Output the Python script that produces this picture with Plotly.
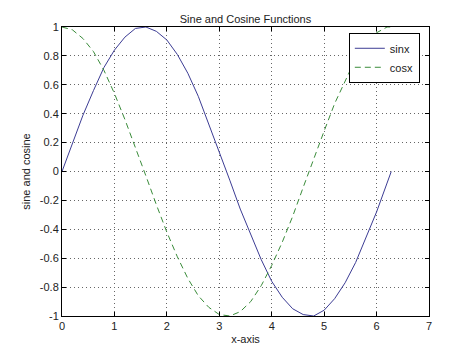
import plotly.graph_objects as go

x_vals = [0, 0.2, 0.4, 0.6, 0.8, 1.0, 1.2, 1.4, 1.6, 1.8, 2.0, 2.2, 2.4, 2.6, 2.8, 3.0,
          3.2, 3.4, 3.6, 3.8, 4.0, 4.2, 4.4, 4.6, 4.8, 5.0, 5.2, 5.4, 5.6, 5.8, 6.0, 6.2, 6.28]
sin_vals = [0.00, 0.20, 0.39, 0.56, 0.72, 0.84, 0.93, 0.99, 1.00, 0.97, 0.91, 0.81, 0.68, 0.52,
            0.33, 0.14, -0.06, -0.26, -0.44, -0.61, -0.76, -0.87, -0.95, -0.99, -1.00, -0.96,
            -0.88, -0.77, -0.63, -0.46, -0.28, -0.08, 0.00]
cos_vals = [1.00, 0.98, 0.92, 0.83, 0.70, 0.54, 0.36, 0.17, -0.03, -0.23, -0.42, -0.59, -0.74,
            -0.86, -0.94, -0.99, -1.00, -0.97, -0.90, -0.79, -0.65, -0.49, -0.31, -0.11, 0.09,
            0.28, 0.47, 0.63, 0.78, 0.89, 0.96, 1.00, 1.00]
x_ticks = [0, 1, 2, 3, 4, 5, 6, 7]
y_ticks = [-1, -0.8, -0.6, -0.4, -0.2, 0, 0.2, 0.4, 0.6, 0.8, 1]

FONT = "Liberation Sans, Arial, sans-serif"

fig = go.Figure()
fig.add_trace(go.Scatter(x=x_vals, y=sin_vals, mode="lines", name="sinx",
                         line=dict(color="#3c3c94", width=1)))
fig.add_trace(go.Scatter(x=x_vals, y=cos_vals, mode="lines", name="cosx",
                         line=dict(color="#3a8c3a", width=1, dash="6px,4px")))

axis_common = dict(showline=True, linecolor="black", linewidth=1, mirror="ticks",
                   ticks="inside", ticklen=4, tickcolor="black",
                   showgrid=True, gridcolor="#666666", griddash="1px,3px", gridwidth=1,
                   zeroline=False, tickfont=dict(size=11, color="#222222", family=FONT))

fig.update_layout(
    width=474, height=355,
    margin=dict(l=62, r=45, t=27, b=39),
    paper_bgcolor="white", plot_bgcolor="white",
    font=dict(family=FONT, size=11, color="#222222"),
    title=dict(text="Sine and Cosine Functions", x=0.5, xref="paper", xanchor="center",
               y=1, yref="paper", yanchor="bottom", pad=dict(b=4),
               font=dict(size=11, family=FONT, color="#222222")),
    xaxis=dict(range=[0, 7], tickvals=x_ticks, ticktext=[str(v) for v in x_ticks],
               title=dict(text="x-axis", standoff=4, font=dict(size=11)), **axis_common),
    yaxis=dict(range=[-1, 1], tickvals=y_ticks, ticktext=[f"{v:g}" for v in y_ticks],
               title=dict(text="sine and cosine", standoff=6, font=dict(size=11)), **axis_common),
    legend=dict(x=0.975, y=0.98, xanchor="right", yanchor="top",
                bgcolor="white", bordercolor="black", borderwidth=1,
                font=dict(size=11, family=FONT), tracegroupgap=0, itemwidth=30),
    showlegend=True,
)

fig.write_html("out.html")
